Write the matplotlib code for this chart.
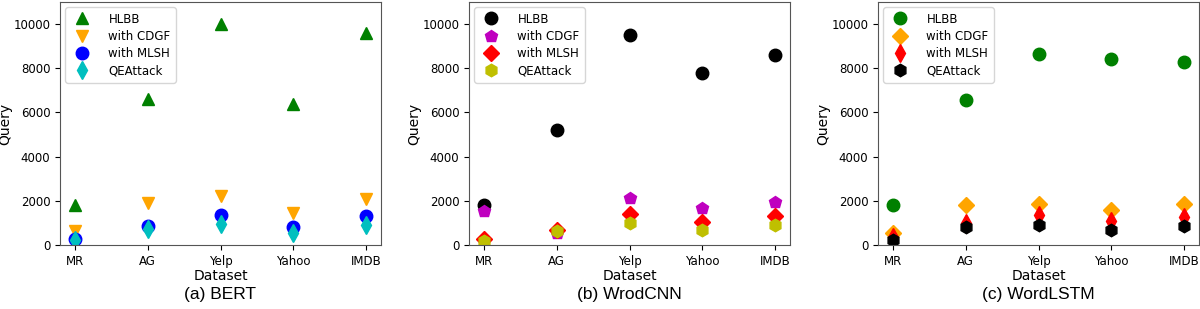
import matplotlib
matplotlib.use("Agg")
import matplotlib.pyplot as plt

datasets = ["MR", "AG", "Yelp", "Yahoo", "IMDB"]
methods = ["HLBB", "with CDGF", "with MLSH", "QEAttack"]

# query counts
bert_hlbb = [1800, 6600, 10000, 6380, 9580]
bert_cdgf = [620, 1890, 2200, 1430, 2060]
bert_mlsh = [260, 880, 1360, 800, 1330]
bert_qe = [220, 720, 960, 560, 900]

cnn_hlbb = [1800, 5200, 9500, 7800, 8600]
cnn_cdgf = [1550, 560, 2120, 1660, 1960]
cnn_mlsh = [280, 700, 1400, 1020, 1320]
cnn_qe = [200, 640, 1000, 700, 920]

lstm_hlbb = [1820, 6560, 8640, 8440, 8280]
lstm_cdgf = [540, 1800, 1860, 1600, 1840]
lstm_mlsh = [380, 1000, 1360, 1100, 1280]
lstm_qe = [230, 820, 920, 680, 860]

panels = [
    ("(a) BERT", [bert_hlbb, bert_cdgf, bert_mlsh, bert_qe],
     [("^", "green", 9), ("v", "orange", 9), ("o", "blue", 9), ("d", "c", 9)]),
    ("(b) WrodCNN", [cnn_hlbb, cnn_cdgf, cnn_mlsh, cnn_qe],
     [("o", "black", 9), ("p", "m", 9), ("D", "red", 8), ("h", "y", 9)]),
    ("(c) WordLSTM", [lstm_hlbb, lstm_cdgf, lstm_mlsh, lstm_qe],
     [("o", "green", 9), ("D", "orange", 8.5), ("d", "red", 9), ("h", "black", 9)]),
]

fig = plt.figure(figsize=(12, 3.09), dpi=100)
lefts = [60, 469, 878]
for left, (caption, series, styles) in zip(lefts, panels):
    ax = fig.add_axes([left / 1200, 64 / 309, 321 / 1200, 243 / 309])
    x = range(len(datasets))
    for vals, (m, c, ms), name in zip(series, styles, methods):
        ax.plot(x, vals, linestyle="none", marker=m, color=c, markersize=ms, label=name)
    ax.set_ylim(0, 11000)
    ax.set_xticks(list(x))
    ax.set_xticklabels(datasets)
    ax.set_yticks([0, 2000, 4000, 6000, 8000, 10000])
    ax.tick_params(labelsize=8.5)
    ax.set_xlabel("Dataset", fontsize=10, labelpad=1)
    ax.set_ylabel("Query", fontsize=10, labelpad=1)
    for s in ax.spines.values():
        s.set_color("#555555")
    ax.legend(loc="upper left", fontsize=8.5, handletextpad=1.2, borderaxespad=0.45,
              labelspacing=0.36, borderpad=0.45)
    fig.text((left + 160) / 1200, 14 / 309, caption, ha="center", va="center",
             fontsize=12.5, family="Liberation Sans")

fig.savefig("out.png", dpi=100)
